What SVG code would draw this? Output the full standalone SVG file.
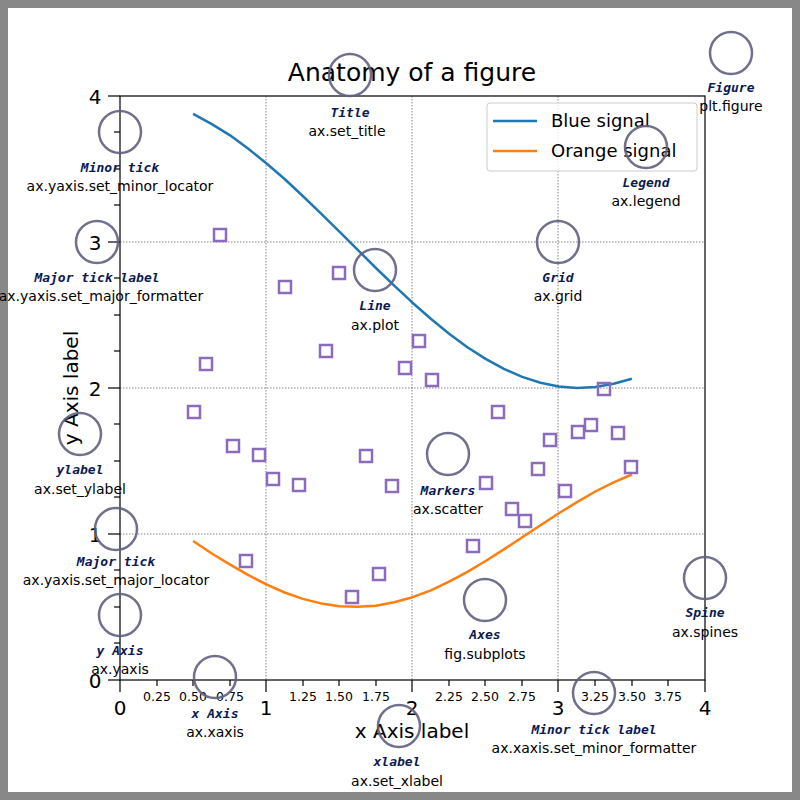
<svg xmlns="http://www.w3.org/2000/svg" width="800" height="800" viewBox="0 0 800 800">
<style>
.sp{stroke:#000;stroke-width:1.2;fill:none}
.tk{stroke:#000;stroke-width:1.2}
.gr{stroke:#333;stroke-width:0.6;stroke-dasharray:1.5,1.5}
.ml{font-family:"DejaVu Sans",sans-serif;font-size:12.5px;text-anchor:middle;fill:#000}
.big{font-family:"DejaVu Sans",sans-serif;font-size:20px;text-anchor:middle;fill:#000}
.mk{fill:none;stroke:#8c6bbd;stroke-width:2.5}
.c{fill:none;stroke:#606080;stroke-width:2.5;stroke-opacity:0.9}
.a1{font-family:"DejaVu Sans Mono",monospace;font-size:13px;font-weight:bold;font-style:italic;text-anchor:middle;fill:#0a1a50}
.a2{font-family:"DejaVu Sans",sans-serif;font-size:14px;text-anchor:middle;fill:#000}
</style>
<rect x="0" y="0" width="800" height="800" fill="#888"/>
<rect x="8" y="8" width="784" height="784" fill="#fff"/>
<g id="grid">
<line class="gr" x1="266" y1="96" x2="266" y2="680"/><line class="gr" x1="412" y1="96" x2="412" y2="680"/><line class="gr" x1="558" y1="96" x2="558" y2="680"/>
<line class="gr" x1="120" y1="534" x2="705" y2="534"/><line class="gr" x1="120" y1="388" x2="705" y2="388"/><line class="gr" x1="120" y1="242" x2="705" y2="242"/>
</g>
<g id="axes-frame">
<rect class="sp" x="120" y="96" width="585" height="584"/>
<g id="xticks">
<line class="tk" x1="120" y1="680" x2="120" y2="692"/><line class="tk" x1="266" y1="680" x2="266" y2="692"/><line class="tk" x1="412" y1="680" x2="412" y2="692"/><line class="tk" x1="558" y1="680" x2="558" y2="692"/><line class="tk" x1="705" y1="680" x2="705" y2="692"/>
<line class="tk" x1="157" y1="680" x2="157" y2="686"/><line class="tk" x1="193" y1="680" x2="193" y2="686"/><line class="tk" x1="230" y1="680" x2="230" y2="686"/><line class="tk" x1="303" y1="680" x2="303" y2="686"/><line class="tk" x1="339" y1="680" x2="339" y2="686"/><line class="tk" x1="376" y1="680" x2="376" y2="686"/><line class="tk" x1="449" y1="680" x2="449" y2="686"/><line class="tk" x1="485" y1="680" x2="485" y2="686"/><line class="tk" x1="522" y1="680" x2="522" y2="686"/><line class="tk" x1="595" y1="680" x2="595" y2="686"/><line class="tk" x1="632" y1="680" x2="632" y2="686"/><line class="tk" x1="668" y1="680" x2="668" y2="686"/>
<text class="big" x="120" y="715">0</text><text class="big" x="266" y="715">1</text><text class="big" x="412" y="715">2</text><text class="big" x="558" y="715">3</text><text class="big" x="705" y="715">4</text>
<text class="ml" x="157" y="701">0.25</text><text class="ml" x="193" y="701">0.50</text><text class="ml" x="230" y="701">0.75</text><text class="ml" x="303" y="701">1.25</text><text class="ml" x="339" y="701">1.50</text><text class="ml" x="376" y="701">1.75</text><text class="ml" x="449" y="701">2.25</text><text class="ml" x="485" y="701">2.50</text><text class="ml" x="522" y="701">2.75</text><text class="ml" x="595" y="701">3.25</text><text class="ml" x="632" y="701">3.50</text><text class="ml" x="668" y="701">3.75</text>
</g>
<g id="yticks">
<line class="tk" x1="108" y1="680" x2="120" y2="680"/><line class="tk" x1="108" y1="534" x2="120" y2="534"/><line class="tk" x1="108" y1="388" x2="120" y2="388"/><line class="tk" x1="108" y1="242" x2="120" y2="242"/><line class="tk" x1="108" y1="96" x2="120" y2="96"/>
<line class="tk" x1="114" y1="643" x2="120" y2="643"/><line class="tk" x1="114" y1="607" x2="120" y2="607"/><line class="tk" x1="114" y1="570" x2="120" y2="570"/><line class="tk" x1="114" y1="497" x2="120" y2="497"/><line class="tk" x1="114" y1="461" x2="120" y2="461"/><line class="tk" x1="114" y1="424" x2="120" y2="424"/><line class="tk" x1="114" y1="351" x2="120" y2="351"/><line class="tk" x1="114" y1="315" x2="120" y2="315"/><line class="tk" x1="114" y1="278" x2="120" y2="278"/><line class="tk" x1="114" y1="205" x2="120" y2="205"/><line class="tk" x1="114" y1="169" x2="120" y2="169"/><line class="tk" x1="114" y1="132" x2="120" y2="132"/>
<text class="big" x="95" y="688">0</text><text class="big" x="95" y="542">1</text><text class="big" x="95" y="396">2</text><text class="big" x="95" y="250">3</text><text class="big" x="95" y="104">4</text>
</g>
<text class="big" x="412" y="738">x Axis label</text>
<text class="big" transform="translate(78,388) rotate(-90)">y Axis label</text>
<text class="big" style="font-size:25px" x="412" y="81">Anatomy of a figure</text>
</g>
<g id="lines">
<polyline fill="none" stroke="#1f77b4" stroke-width="2.5" stroke-linejoin="round" points="193.1,113.8 211.4,123.9 229.7,135.1 248,148.6 266.3,163.2 284.6,179 302.8,196 321.1,213.6 339.4,231.6 357.7,249.8 375.9,268 394.2,285.6 412.5,302.7 430.8,318.8 449.1,333.7 467.4,347.2 485.6,358.9 503.9,368.9 522.2,376.9 540.5,382.7 558.8,386.5 577,388 595.3,387.1 613.6,383.7 631.9,378.7"/>
<polyline fill="none" stroke="#ff7f0e" stroke-width="2.5" stroke-linejoin="round" points="193.1,541 211.4,553.3 229.7,564.4 248,574.9 266.3,584.4 284.6,592.5 302.8,598.9 321.1,603.4 339.4,606.3 357.7,606.8 375.9,605.7 394.2,602.3 412.5,597.2 430.8,590.3 449.1,581.7 467.4,571.9 485.6,561 503.9,549.4 522.2,537.3 540.5,525.2 558.8,513.3 577,502.1 595.3,491.5 613.6,482.4 631.9,474.5"/>
</g>
<g id="markers">
<rect class="mk" x="214" y="229" width="12" height="12"/><rect class="mk" x="200" y="358" width="12" height="12"/><rect class="mk" x="188" y="406" width="12" height="12"/><rect class="mk" x="227" y="440" width="12" height="12"/><rect class="mk" x="253" y="449" width="12" height="12"/><rect class="mk" x="267" y="473" width="12" height="12"/><rect class="mk" x="293" y="479" width="12" height="12"/><rect class="mk" x="240" y="555" width="12" height="12"/><rect class="mk" x="279" y="281" width="12" height="12"/><rect class="mk" x="333" y="267" width="12" height="12"/><rect class="mk" x="320" y="345" width="12" height="12"/><rect class="mk" x="373" y="568" width="12" height="12"/><rect class="mk" x="346" y="591" width="12" height="12"/><rect class="mk" x="360" y="450" width="12" height="12"/><rect class="mk" x="386" y="480" width="12" height="12"/><rect class="mk" x="413" y="335" width="12" height="12"/><rect class="mk" x="399" y="362" width="12" height="12"/><rect class="mk" x="426" y="374" width="12" height="12"/><rect class="mk" x="467" y="540" width="12" height="12"/><rect class="mk" x="480" y="477" width="12" height="12"/><rect class="mk" x="492" y="406" width="12" height="12"/><rect class="mk" x="506" y="503" width="12" height="12"/><rect class="mk" x="519" y="515" width="12" height="12"/><rect class="mk" x="532" y="463" width="12" height="12"/><rect class="mk" x="544" y="434" width="12" height="12"/><rect class="mk" x="559" y="485" width="12" height="12"/><rect class="mk" x="572" y="426" width="12" height="12"/><rect class="mk" x="585" y="419" width="12" height="12"/><rect class="mk" x="598" y="383" width="12" height="12"/><rect class="mk" x="612" y="427" width="12" height="12"/><rect class="mk" x="625" y="461" width="12" height="12"/>
</g>
<g id="legend">
<rect x="487" y="103" width="210" height="68" rx="3" fill="#fff" fill-opacity="0.8" stroke="#ccc"/>
<line x1="493" y1="121" x2="537" y2="121" stroke="#1f77b4" stroke-width="2.5"/>
<line x1="493" y1="151" x2="537" y2="151" stroke="#ff7f0e" stroke-width="2.5"/>
<text class="big" style="text-anchor:start;font-size:18px" x="551" y="127">Blue signal</text>
<text class="big" style="text-anchor:start;font-size:18px" x="551" y="157">Orange signal</text>
</g>
<g id="annotations">
<g id="a-title"><circle class="c" cx="350" cy="75" r="21"/><text class="a1" x="350" y="117">Title</text><text class="a2" x="347" y="136">ax.set_title</text></g>
<g id="a-figure"><circle class="c" cx="731" cy="53" r="21"/><text class="a1" x="731" y="92">Figure</text><text class="a2" x="731" y="111">plt.figure</text></g>
<g id="a-legend"><circle class="c" cx="646" cy="147" r="21"/><text class="a1" x="646" y="187">Legend</text><text class="a2" x="646" y="206">ax.legend</text></g>
<g id="a-minortick"><circle class="c" cx="120" cy="132" r="21"/><text class="a1" x="120" y="172">Minor tick</text><text class="a2" x="120" y="191">ax.yaxis.set_minor_locator</text></g>
<g id="a-majorticklabel"><circle class="c" cx="97" cy="242" r="21"/><text class="a1" x="97" y="282">Major tick label</text><text class="a2" x="101" y="301">ax.yaxis.set_major_formatter</text></g>
<g id="a-grid"><circle class="c" cx="558" cy="242" r="21"/><text class="a1" x="558" y="282">Grid</text><text class="a2" x="558" y="301">ax.grid</text></g>
<g id="a-line"><circle class="c" cx="375" cy="270" r="21"/><text class="a1" x="375" y="310">Line</text><text class="a2" x="375" y="330">ax.plot</text></g>
<g id="a-ylabel"><circle class="c" cx="80" cy="434" r="21"/><text class="a1" x="80" y="474">ylabel</text><text class="a2" x="80" y="494">ax.set_ylabel</text></g>
<g id="a-markers"><circle class="c" cx="448" cy="454" r="21"/><text class="a1" x="448" y="495">Markers</text><text class="a2" x="448" y="514">ax.scatter</text></g>
<g id="a-majortick"><circle class="c" cx="116" cy="529" r="21"/><text class="a1" x="116" y="566">Major tick</text><text class="a2" x="116" y="585">ax.yaxis.set_major_locator</text></g>
<g id="a-yaxis"><circle class="c" cx="120" cy="615" r="21"/><text class="a1" x="120" y="655">y Axis</text><text class="a2" x="120" y="674">ax.yaxis</text></g>
<g id="a-axes"><circle class="c" cx="485" cy="600" r="21"/><text class="a1" x="485" y="639">Axes</text><text class="a2" x="485" y="659">fig.subplots</text></g>
<g id="a-spine"><circle class="c" cx="705" cy="578" r="21"/><text class="a1" x="705" y="617">Spine</text><text class="a2" x="705" y="637">ax.spines</text></g>
<g id="a-xaxis"><circle class="c" cx="215" cy="677" r="21"/><text class="a1" x="215" y="718">x Axis</text><text class="a2" x="215" y="737">ax.xaxis</text></g>
<g id="a-xlabel"><circle class="c" cx="399" cy="726" r="21"/><text class="a1" x="397" y="766">xlabel</text><text class="a2" x="397" y="786">ax.set_xlabel</text></g>
<g id="a-minorticklabel"><circle class="c" cx="594" cy="693" r="21"/><text class="a1" x="594" y="734">Minor tick label</text><text class="a2" x="594" y="753">ax.xaxis.set_minor_formatter</text></g>
</g>
</svg>
